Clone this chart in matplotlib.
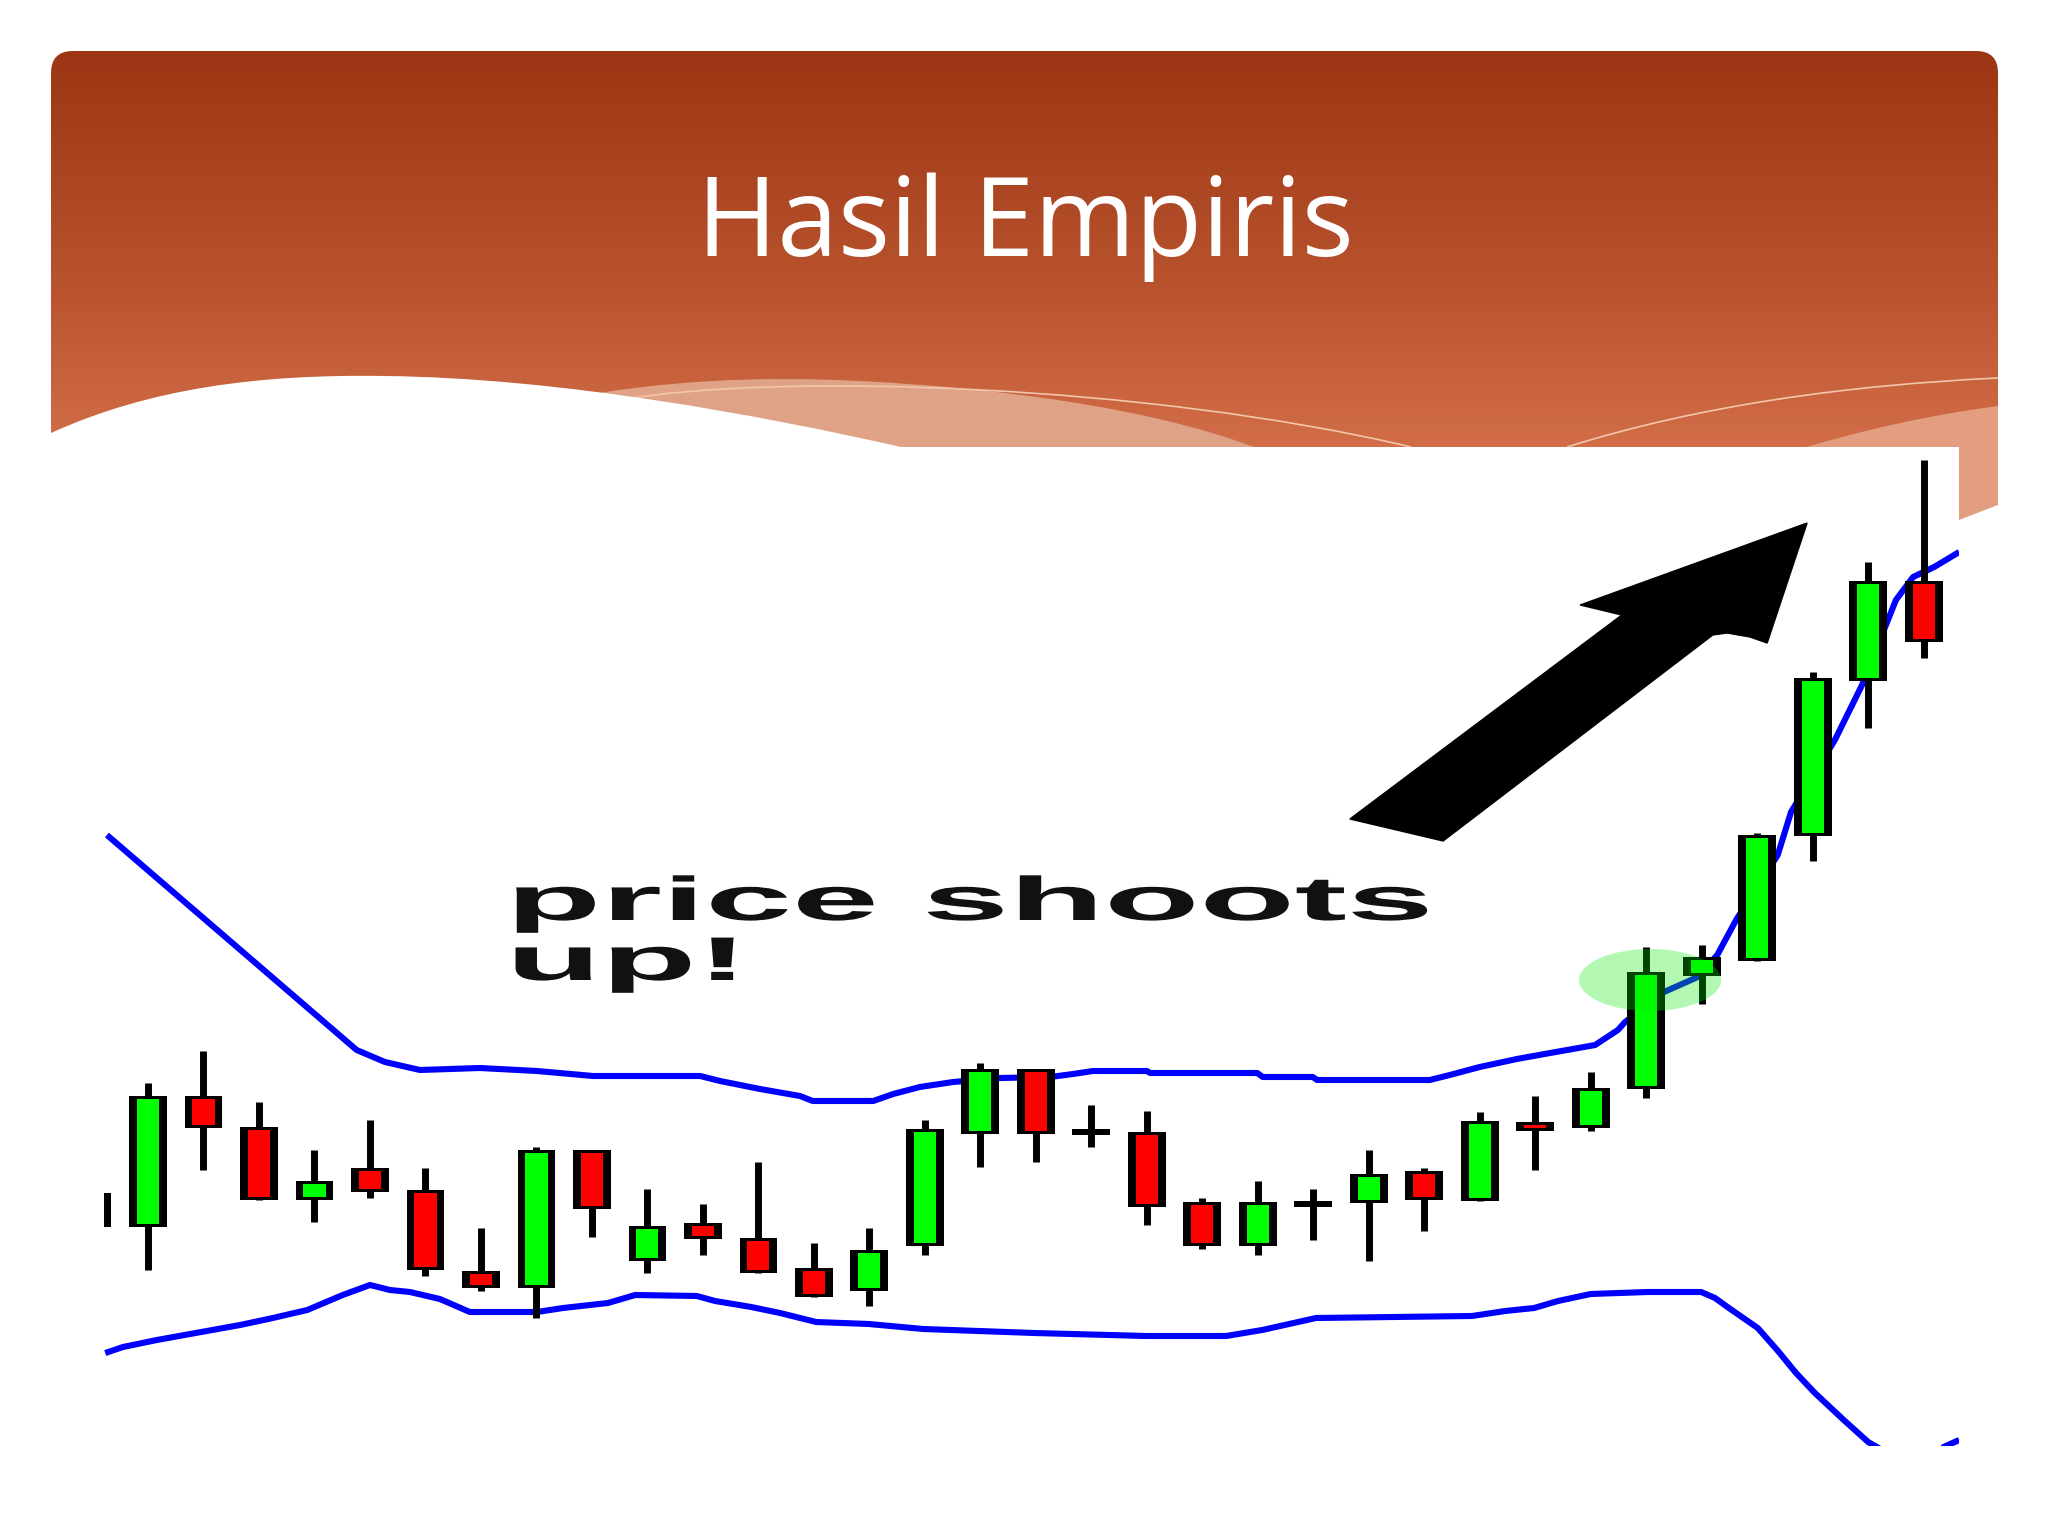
import numpy as np
import matplotlib
matplotlib.use("Agg")
import matplotlib.pyplot as plt
from matplotlib.patches import FancyBboxPatch, Ellipse, Polygon, PathPatch
from matplotlib.path import Path
from matplotlib.colors import LinearSegmentedColormap
from matplotlib.patheffects import AbstractPathEffect
from matplotlib.transforms import Affine2D

# candle data (one candle per bar, index 0 is cut off at the left edge)
opens = [30.7, 27.3, 40.4, 37.3, 30.0, 33.2, 31.0, 22.9, 21.2, 35.0, 23.9, 27.7,
         26.2, 23.2, 20.9, 25.4, 36.6, 43.1, 36.8, 36.8, 29.8, 25.4, 29.6, 29.7,
         32.9, 29.9, 37.8, 37.2, 41.1, 52.4, 53.9, 66.4, 81.9, 91.9]
closes = [27.3, 40.4, 37.2, 30.0, 31.9, 30.8, 23.0, 21.2, 35.0, 29.1, 27.4, 26.1,
          22.7, 20.3, 25.0, 37.1, 43.1, 36.6, 36.8, 29.3, 25.4, 29.8, 29.6, 32.6,
          30.0, 37.9, 36.9, 41.2, 52.8, 54.3, 66.5, 82.2, 91.9, 85.8]
highs = [30.7, 41.7, 44.9, 39.8, 35.0, 38.0, 33.2, 27.2, 35.3, 35.0, 31.1, 29.6,
         33.8, 25.7, 27.2, 38.0, 43.7, 43.1, 39.5, 38.9, 30.2, 31.9, 31.1, 35.0,
         33.2, 38.8, 40.4, 42.8, 55.3, 55.5, 66.7, 82.8, 93.8, 104.0]
lows = [27.3, 23.0, 33.0, 30.0, 27.8, 30.2, 22.4, 20.9, 18.2, 26.3, 22.7, 24.5,
        22.7, 20.3, 19.4, 24.5, 33.3, 33.8, 35.3, 27.5, 25.1, 24.5, 26.0, 23.9,
        26.9, 29.9, 33.0, 36.9, 40.2, 49.6, 53.9, 63.9, 77.2, 84.2]

# bollinger bands
upper_x = [0.26, 4.76, 5.27, 5.90, 6.98, 8.01, 9.02, 10.95, 11.31, 12.03, 12.75,
           12.98, 14.07, 14.43, 14.91, 15.51, 16.35, 17.26, 17.67, 18.03, 19.0,
           19.06, 20.99, 21.09, 21.99, 22.07, 24.10, 24.46, 25.0, 25.67, 26.27,
           27.08, 27.49, 27.62, 28.32, 28.93, 29.28, 29.62, 30.37, 30.61, 31.40,
           31.89, 32.50, 32.81, 33.19, 33.64]
upper_y = [66.5, 45.0, 43.8, 43.0, 43.2, 42.9, 42.4, 42.4, 41.9, 41.1, 40.4,
           39.9, 39.9, 40.6, 41.3, 41.8, 42.2, 42.3, 42.6, 42.9, 42.9,
           42.7, 42.7, 42.3, 42.3, 42.0, 42.0, 42.5, 43.3, 44.1, 44.7,
           45.5, 47.0, 47.8, 50.8, 52.3, 54.5, 58.0, 64.5, 68.8, 76.0,
           81.5, 90.0, 92.3, 93.3, 94.8]
lower_x = [0.23, 0.55, 1.16, 1.76, 2.66, 3.25, 3.87, 4.51, 5.0, 5.36, 5.72, 6.26,
           6.80, 8.01, 8.48, 9.29, 9.78, 10.89, 11.22, 11.87, 12.39, 13.04, 13.99,
           14.97, 16.97, 18.99, 20.43, 21.08, 22.05, 24.86, 25.46, 25.98, 26.41,
           27.0, 28.03, 28.99, 29.24, 29.49, 30.01, 30.36, 30.70, 31.04, 31.56,
           32.0, 32.25, 32.6, 33.1, 33.36, 33.64]
lower_y = [14.7, 15.3, 16.0, 16.6, 17.5, 18.2, 19.0, 20.5, 21.5, 21.0, 20.8, 20.1,
           18.8, 18.8, 19.2, 19.7, 20.5, 20.4, 19.9, 19.3, 18.7, 17.8, 17.6,
           17.1, 16.7, 16.4, 16.4, 17.0, 18.2, 18.4, 18.9, 19.2, 19.9,
           20.6, 20.8, 20.8, 20.2, 19.2, 17.2, 15.0, 12.7, 10.7, 8.0,
           5.8, 5.0, 2.8, 2.8, 5.3, 6.0]

# annotation shapes
arrow_x = [22.66, 24.34, 29.20, 29.46, 29.87, 30.18, 30.90, 26.81, 27.56]
arrow_y = [68.1, 65.9, 86.5, 86.7, 86.3, 85.7, 97.7, 89.5, 88.5]
highlight_center = (28.07, 52.0)

title = "Hasil Empiris"
note_lines = ["price shoots", "up!"]


class HStretch(AbstractPathEffect):
    """draw text glyphs stretched horizontally (the chart picture was stretched)"""
    def __init__(self, sx):
        super().__init__()
        self._sx = sx

    def draw_path(self, renderer, gc, tpath, affine, rgbFace=None):
        renderer.draw_path(gc, tpath, Affine2D().scale(self._sx, 1.0) + affine, rgbFace)


W, H = 2048, 1536
fig = plt.figure(figsize=(W / 100, H / 100), dpi=100)
fig.patch.set_facecolor("white")

# slide background, pixel coordinates
bg = fig.add_axes([0, 0, 1, 1], zorder=0)
bg.set_xlim(0, W)
bg.set_ylim(H, 0)
bg.axis("off")

header = FancyBboxPatch((51, 51), 1947, 480, boxstyle="round,pad=0,rounding_size=22",
                        facecolor="none", edgecolor="none")
bg.add_patch(header)
cmap = LinearSegmentedColormap.from_list("hdr", ["#9B3513", "#B9542F", "#E07B57"])
grad = np.linspace(0, 1, 256).reshape(-1, 1)
im = bg.imshow(grad, extent=(51, 1998, 531, 51), cmap=cmap, aspect="auto",
               interpolation="bilinear", zorder=1)
im.set_clip_path(header)

# lighter swoosh shapes inside the header
light_left = PathPatch(Path([(560, 400), (660, 380), (760, 376), (860, 381),
                            (1000, 388), (1150, 408), (1254, 447), (1254, 480),
                            (560, 480), (560, 400)],
                           [Path.MOVETO, Path.CURVE4, Path.CURVE4, Path.CURVE4,
                            Path.CURVE4, Path.CURVE4, Path.CURVE4, Path.LINETO,
                            Path.LINETO, Path.CLOSEPOLY]),
                       facecolor="#DFA286", edgecolor="none", zorder=2)
bg.add_patch(light_left)
light_left.set_clip_path(header)
light_right = PathPatch(Path([(1780, 455), (1860, 430), (1930, 415), (1998, 406),
                             (1998, 540), (1780, 540), (1780, 455)],
                            [Path.MOVETO, Path.CURVE4, Path.CURVE4, Path.CURVE4,
                             Path.LINETO, Path.LINETO, Path.CLOSEPOLY]),
                        facecolor="#E39E82", edgecolor="none", zorder=2)
bg.add_patch(light_right)
light_right.set_clip_path(header)
for verts in ([(620, 400), (780, 372), (1150, 385), (1411, 447)],
              [(1567, 447), (1700, 405), (1850, 385), (1998, 378)]):
    ln = PathPatch(Path(verts, [Path.MOVETO, Path.CURVE4, Path.CURVE4, Path.CURVE4]),
                   facecolor="none", edgecolor="#F2C6AC", lw=1.2, zorder=3)
    bg.add_patch(ln)
    ln.set_clip_path(header)

# white wave over the bottom of the header
wave = PathPatch(Path([(30, 440), (51, 433), (150, 388), (260, 374), (385, 376),
                       (560, 378), (760, 415), (901, 447), (1959, 520), (1998, 505),
                       (2010, 505), (2010, 600), (30, 600), (30, 440)],
                      [Path.MOVETO, Path.LINETO, Path.CURVE4, Path.CURVE4, Path.CURVE4,
                       Path.CURVE4, Path.CURVE4, Path.CURVE4, Path.LINETO, Path.LINETO,
                       Path.LINETO, Path.LINETO, Path.LINETO, Path.CLOSEPOLY]),
                 facecolor="white", edgecolor="none", zorder=4)
bg.add_patch(wave)

bg.text(1025, 256, title, color="white", fontsize=78.6, family="Open Sans",
        ha="center", va="baseline", zorder=5)

# the candlestick chart picture
ax = fig.add_axes([104 / W, 1 - 1446 / H, (1959 - 104) / W, (1446 - 447) / H], zorder=1)
ax.set_facecolor("white")
ax.set_xlim(0.2072, 33.637)
ax.set_ylim(5.4, 105.3)
ax.set_xticks([])
ax.set_yticks([])
for s in ax.spines.values():
    s.set_visible(False)

ax.plot(upper_x, upper_y, color="#0000FF", lw=4.4, zorder=2, solid_capstyle="butt")
ax.plot(lower_x, lower_y, color="#0000FF", lw=4.4, zorder=2, solid_capstyle="butt")

o = np.array(opens)
c = np.array(closes)
idx = np.arange(len(o))
lo = np.minimum(o, c)
hi = np.maximum(o, c)
outer_h = np.maximum(hi - lo, 0.55)
outer_b = (lo + hi) / 2 - outer_h / 2
inner_h = outer_h - 0.64
colors = np.where(c > o, "#00FF00", "#FF0000")

ax.vlines(idx, lows, highs, color="black", lw=5.0, zorder=3)
ax.bar(idx, outer_h, bottom=outer_b, width=0.68, color="black", zorder=4)
body = inner_h > 0.05
ax.bar(idx[body], inner_h[body], bottom=outer_b[body] + 0.32, width=0.40,
       color=colors[body], zorder=5)

ax.add_patch(Ellipse(highlight_center, 2.56, 6.2, facecolor=(0.0, 0.92, 0.0),
                     alpha=0.3, edgecolor="none", zorder=6))
ax.add_patch(Polygon(np.column_stack([arrow_x, arrow_y]), closed=True,
                     facecolor="black", edgecolor="black", lw=1.0, zorder=7))

for line, base in zip(note_lines, [58.0, 52.0]):
    ax.text(7.45, base, line, fontsize=44.4, family="Liberation Sans",
            fontweight="bold", color="#111111", ha="left", va="baseline",
            zorder=8, path_effects=[HStretch(2.53)])

fig.savefig("out.png", dpi=100, facecolor="white")
